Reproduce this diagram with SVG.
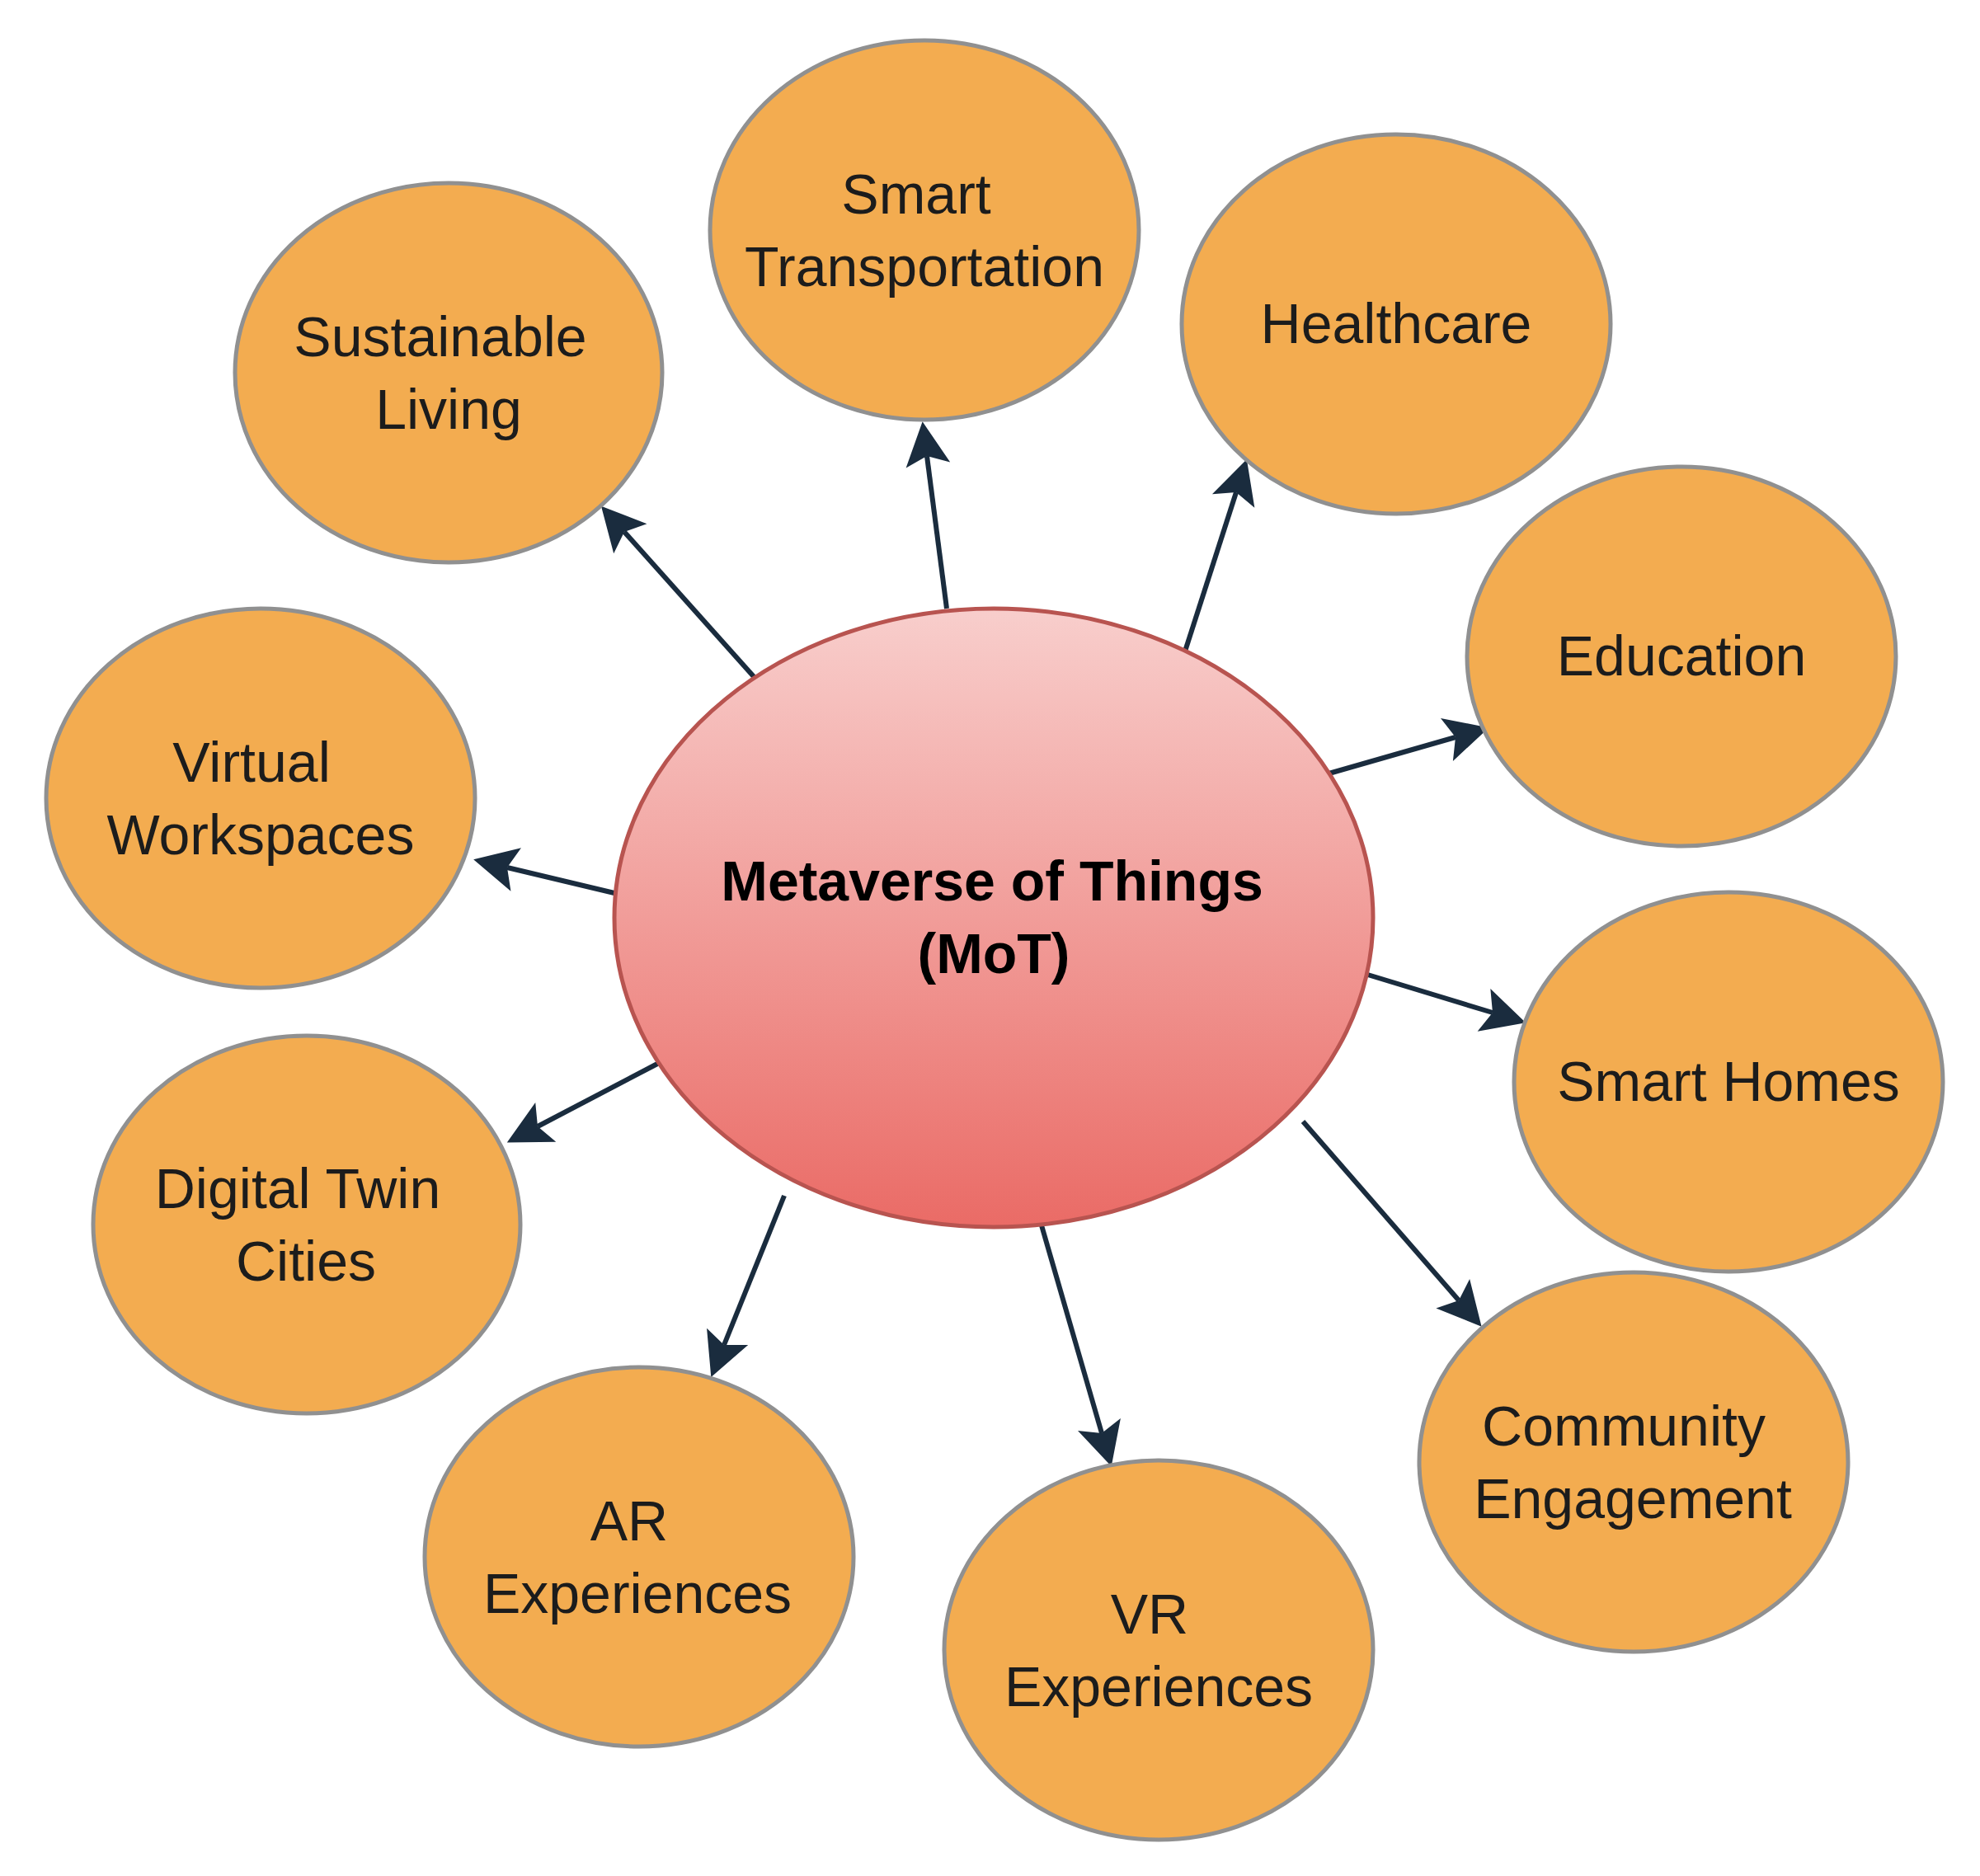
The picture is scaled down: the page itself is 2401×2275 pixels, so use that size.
<svg xmlns="http://www.w3.org/2000/svg" width="2401" height="2275" viewBox="0 0 2401 2275">
<style>
.node ellipse{fill:#F3AC50;stroke:#909090;stroke-width:5}
.lbl{font-family:"Liberation Sans",Arial,sans-serif;font-size:68px;fill:#1C1C1C;text-anchor:middle}
.ctr{font-family:"Liberation Sans",Arial,sans-serif;font-size:68px;font-weight:bold;fill:#000;text-anchor:middle}
.edge{stroke:#1A2C3E;stroke-width:6;fill:none;marker-end:url(#arr)}
</style>
<defs>
<linearGradient id="cg" x1="0" y1="0" x2="0" y2="1">
<stop offset="0" stop-color="#F8CECC"/>
<stop offset="1" stop-color="#EA6B66"/>
</linearGradient>
<marker id="arr" markerUnits="userSpaceOnUse" markerWidth="100" markerHeight="100" viewBox="-30 -50 100 100" refX="0" refY="0" orient="auto">
<path d="M42,0 L-11,-27 L0,0 L-11,27 Z" fill="#1A2C3E"/>
</marker>
</defs>
<rect width="2401" height="2275" fill="#FFFFFF"/>
<g id="connectors">
<line class="edge" x1="918" y1="825" x2="757" y2="645"/>
<line class="edge" x1="1148" y1="738" x2="1124" y2="553"/>
<line class="edge" x1="1435" y1="796" x2="1499" y2="597"/>
<line class="edge" x1="1608" y1="939" x2="1765" y2="894"/>
<line class="edge" x1="1652" y1="1180" x2="1810" y2="1228"/>
<line class="edge" x1="1580" y1="1360" x2="1769" y2="1577"/>
<line class="edge" x1="1263" y1="1486" x2="1336" y2="1738"/>
<line class="edge" x1="951" y1="1450" x2="878" y2="1631"/>
<line class="edge" x1="801" y1="1288" x2="652" y2="1366"/>
<line class="edge" x1="745" y1="1083" x2="615" y2="1052"/>
</g>
<g id="mot">
<ellipse cx="1205" cy="1113" rx="460" ry="375" fill="url(#cg)" stroke="#B85450" stroke-width="5"/>
<text class="ctr" x="1203" y="1092">Metaverse of Things</text>
<text class="ctr" x="1205" y="1180">(MoT)</text>
</g>
<g id="sustainable-living" class="node">
<ellipse cx="544" cy="452" rx="259" ry="230"/>
<text class="lbl" x="534" y="432">Sustainable</text>
<text class="lbl" x="544" y="520">Living</text>
</g>
<g id="smart-transportation" class="node">
<ellipse cx="1121" cy="279" rx="260" ry="230"/>
<text class="lbl" x="1111" y="259">Smart</text>
<text class="lbl" x="1121" y="347">Transportation</text>
</g>
<g id="healthcare" class="node">
<ellipse cx="1693" cy="393" rx="260" ry="230"/>
<text class="lbl" x="1693" y="416">Healthcare</text>
</g>
<g id="education" class="node">
<ellipse cx="2039" cy="796" rx="260" ry="230"/>
<text class="lbl" x="2039" y="819">Education</text>
</g>
<g id="smart-homes" class="node">
<ellipse cx="2096" cy="1312" rx="260" ry="230"/>
<text class="lbl" x="2096" y="1335">Smart Homes</text>
</g>
<g id="community-engagement" class="node">
<ellipse cx="1981" cy="1773" rx="260" ry="230"/>
<text class="lbl" x="1969" y="1753">Community</text>
<text class="lbl" x="1980" y="1841">Engagement</text>
</g>
<g id="vr-experiences" class="node">
<ellipse cx="1405" cy="2001" rx="260" ry="230"/>
<text class="lbl" x="1394" y="1981">VR</text>
<text class="lbl" x="1405" y="2069">Experiences</text>
</g>
<g id="ar-experiences" class="node">
<ellipse cx="775" cy="1888" rx="260" ry="230"/>
<text class="lbl" x="763" y="1868">AR</text>
<text class="lbl" x="773" y="1956">Experiences</text>
</g>
<g id="digital-twin-cities" class="node">
<ellipse cx="372" cy="1485" rx="259" ry="229"/>
<text class="lbl" x="361" y="1465">Digital Twin</text>
<text class="lbl" x="371" y="1553">Cities</text>
</g>
<g id="virtual-workspaces" class="node">
<ellipse cx="316" cy="968" rx="260" ry="230"/>
<text class="lbl" x="305" y="948">Virtual</text>
<text class="lbl" x="316" y="1036">Workspaces</text>
</g>
</svg>
